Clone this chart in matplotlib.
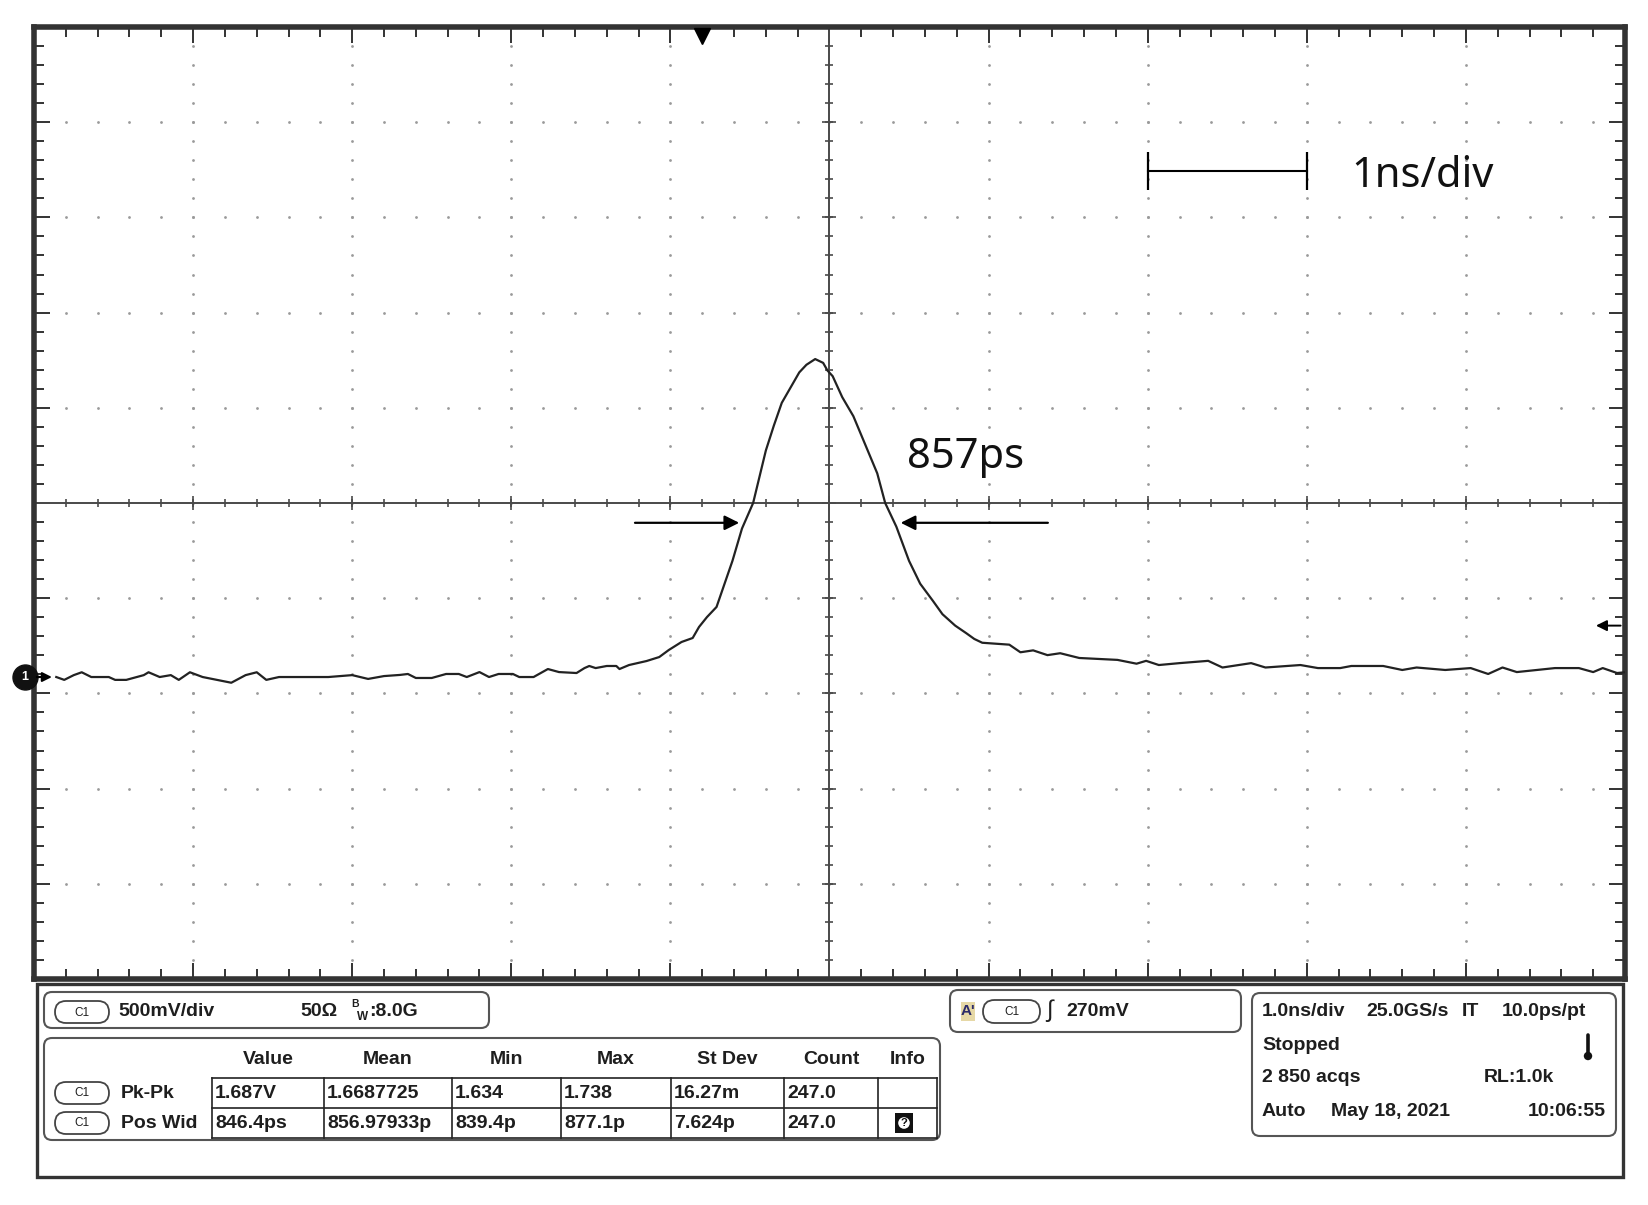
import numpy as np
import matplotlib
matplotlib.use('Agg')
import matplotlib.pyplot as plt
from matplotlib.patches import FancyBboxPatch, Rectangle, Circle

# ---- trace (ns, V) ----
time_ns = [-4.86, -4.81, -4.75, -4.70, -4.64, -4.53, -4.49, -4.42, -4.31, -4.28,
           -4.21, -4.14, -4.09, -4.02, -3.94, -3.85, -3.76, -3.67, -3.60, -3.54,
           -3.46, -3.33, -3.15, -3.00, -2.90, -2.80, -2.70, -2.65, -2.60, -2.50,
           -2.41, -2.33, -2.28, -2.20, -2.14, -2.08, -1.99, -1.95, -1.86, -1.77,
           -1.70, -1.59, -1.54, -1.51, -1.47, -1.40, -1.34, -1.32, -1.26, -1.15,
           -1.07, -1.01, -0.93, -0.86, -0.82, -0.77, -0.71, -0.61, -0.55, -0.48,
           -0.40, -0.35, -0.30, -0.19, -0.145, -0.09, -0.04, -0.013, 0.02, 0.08,
           0.15, 0.23, 0.30, 0.35, 0.42, 0.50, 0.57, 0.65, 0.71, 0.79,
           0.86, 0.91, 0.96, 1.13, 1.20, 1.28, 1.37, 1.45, 1.57, 1.81,
           1.93, 1.99, 2.07, 2.20, 2.38, 2.47, 2.65, 2.74, 2.96, 3.07,
           3.21, 3.28, 3.48, 3.60, 3.69, 3.87, 4.03, 4.14, 4.23, 4.32,
           4.56, 4.71, 4.80, 4.86, 4.95, 5.00]
volts = [0.000, -0.015, 0.010, 0.025, 0.000, 0.000, -0.015, -0.015, 0.010, 0.025,
         0.000, 0.010, -0.015, 0.025, 0.000, -0.015, -0.030, 0.010, 0.025, -0.015,
         0.000, 0.000, 0.000, 0.010, -0.010, 0.005, 0.011, 0.016, -0.005, -0.005,
         0.016, 0.016, 0.000, 0.026, 0.000, 0.016, 0.016, 0.000, 0.000, 0.042,
         0.026, 0.021, 0.047, 0.058, 0.047, 0.058, 0.058, 0.042, 0.063, 0.084,
         0.105, 0.142, 0.184, 0.205, 0.263, 0.315, 0.368, 0.610, 0.780, 0.914,
         1.19, 1.32, 1.44, 1.60, 1.64, 1.67, 1.65, 1.61, 1.58, 1.47,
         1.37, 1.21, 1.07, 0.914, 0.79, 0.61, 0.49, 0.40, 0.33, 0.27,
         0.23, 0.20, 0.18, 0.17, 0.13, 0.14, 0.115, 0.125, 0.100, 0.090,
         0.070, 0.085, 0.063, 0.073, 0.085, 0.050, 0.073, 0.050, 0.063, 0.047,
         0.047, 0.058, 0.058, 0.037, 0.050, 0.037, 0.047, 0.016, 0.050, 0.026,
         0.047, 0.047, 0.026, 0.047, 0.021, 0.025]

trig_time = -0.80
trig_level = 0.27
fwhm_level = 0.81
fwhm_left = -0.55
fwhm_right = 0.43
scalebar = [2.0, 3.0]
scalebar_v = 2.66

# ---- readout panel text ----
ch_scale = '500mV/div'
ch_imp = '50Ω'
ch_bw = ':8.0G'
trig_text = '270mV'
meas_cols = ['Value', 'Mean', 'Min', 'Max', 'St Dev', 'Count', 'Info']
meas_rows = ['Pk-Pk', 'Pos Wid']
pkpk_vals = ['1.687V', '1.6687725', '1.634', '1.738', '16.27m', '247.0']
poswid_vals = ['846.4ps', '856.97933p', '839.4p', '877.1p', '7.624p', '247.0']

v_center = 0.914
FONT = ['Liberation Sans', 'DejaVu Sans']
INK = '#1e1e1e'

fig = plt.figure(figsize=(16.49, 12.05), dpi=100)
fig.patch.set_facecolor('white')

# full-figure pixel axes for the readout panel
ax_p = fig.add_axes([0, 0, 1, 1])
ax_p.set_xlim(0, 1649)
ax_p.set_ylim(1205, 0)
ax_p.axis('off')

# graticule
ax = fig.add_axes([34 / 1649, (1205 - 979) / 1205, 1591 / 1649, 952 / 1205])
ax.set_xlim(-5, 5)
ax.set_ylim(v_center - 2.5, v_center + 2.5)
for s in ax.spines.values():
    s.set_linewidth(4)
    s.set_color('#333333')
ax.set_xticks(np.arange(-5, 5.01, 1))
ax.set_xticks(np.arange(-5, 5.01, 0.2), minor=True)
ax.set_yticks(v_center + np.arange(-2.5, 2.51, 0.5))
ax.set_yticks(v_center + np.arange(-2.5, 2.51, 0.1), minor=True)
ax.tick_params(which='both', direction='in', top=True, right=True,
               labelbottom=False, labelleft=False, color='#333333', width=1.4)
ax.tick_params(which='major', length=11.5)
ax.tick_params(which='minor', length=7.5)

minor_t = np.arange(-5, 5.01, 0.2)
minor_v = v_center + np.arange(-2.5, 2.51, 0.1)
for t in range(-4, 5):
    if t != 0:
        ax.plot([t] * len(minor_v), minor_v, ls='none', marker='o', ms=2.0,
                mew=0, color='#9a9a9a')
for k in range(-4, 5):
    if k != 0:
        ax.plot(minor_t, [v_center + 0.5 * k] * len(minor_t), ls='none',
                marker='o', ms=2.0, mew=0, color='#9a9a9a')

# centre cross with ticks
ax.axhline(v_center, color='#4a4a4a', lw=1.4)
ax.axvline(0, color='#4a4a4a', lw=1.4)
ax.plot(minor_t, [v_center] * len(minor_t), ls='none', marker='|', ms=6,
        mew=1.2, color='#4a4a4a')
ax.plot(np.arange(-5, 5.01, 1), [v_center] * 11, ls='none', marker='|', ms=10,
        mew=1.2, color='#4a4a4a')
ax.plot([0] * len(minor_v), minor_v, ls='none', marker='_', ms=6, mew=1.2,
        color='#4a4a4a')
ax.plot([0] * 11, v_center + np.arange(-2.5, 2.51, 0.5), ls='none', marker='_',
        ms=10, mew=1.2, color='#4a4a4a')

# waveform
ax.plot(time_ns, volts, color='#222222', lw=1.6, zorder=5)

# trigger position, trigger level, channel ground markers
ax.plot([trig_time], [v_center + 2.5 - 0.045], marker='v', ms=11, color='black',
        clip_on=False, zorder=6)
ax.annotate('', xy=(4.80, trig_level), xytext=(4.99, trig_level),
            arrowprops=dict(arrowstyle='-|>', lw=1.4, color='black',
                            mutation_scale=16), zorder=6)
ax.plot([-5.057], [0], marker='o', ms=18, color='#111111', clip_on=False, zorder=7)
ax.text(-5.057, 0, '1', color='white', fontsize=9, fontweight='bold',
        ha='center', va='center', family=FONT, zorder=8, clip_on=False)
ax.annotate('', xy=(-4.87, 0), xytext=(-5.0, 0),
            arrowprops=dict(arrowstyle='-|>', lw=1.5, color='black',
                            mutation_scale=14), zorder=7, annotation_clip=False)

# 1ns/div scale bar
ax.plot(scalebar, [scalebar_v, scalebar_v], color='black', lw=1.5, zorder=6)
ax.plot(scalebar, [scalebar_v, scalebar_v], ls='none', marker='|', ms=27,
        mew=1.6, color='black', zorder=6)
ax.text(3.28, 2.575, '1ns/div', fontsize=30, family=['Noto Sans', 'DejaVu Sans'],
        ha='left', va='baseline', color='#111111')

# FWHM arrows
ax.annotate('', xy=(fwhm_left, fwhm_level), xytext=(-1.24, fwhm_level),
            arrowprops=dict(arrowstyle='-|>', lw=1.6, color='black',
                            mutation_scale=22), zorder=6)
ax.annotate('', xy=(fwhm_right, fwhm_level), xytext=(1.39, fwhm_level),
            arrowprops=dict(arrowstyle='-|>', lw=1.6, color='black',
                            mutation_scale=22), zorder=6)
ax.text(0.49, 1.10, '857ps', fontsize=30, family=['Noto Sans', 'DejaVu Sans'],
        ha='left', va='baseline', color='#111111')


# ---- readout panel ----
def rbox(x0, y0, x1, y1, r=8, lw=1.5, ec='#555555', fc='none'):
    ax_p.add_patch(FancyBboxPatch((x0, y0), x1 - x0, y1 - y0,
                                  boxstyle=f'round,pad=0,rounding_size={r}',
                                  lw=lw, ec=ec, fc=fc))


def txt(x, y, s, ha='left', size=14, weight='bold', color=INK):
    ax_p.text(x, y, s, ha=ha, va='center', fontsize=size, fontweight=weight,
              family=FONT, color=color)


def pill(x0, y0, w=54, h=22):
    rbox(x0, y0, x0 + w, y0 + h, r=h / 2, lw=1.3, ec='#444444')
    txt(x0 + w / 2, y0 + h / 2 + 0.5, 'C1', ha='center', size=8.5, weight='normal')


ax_p.add_patch(Rectangle((37, 984), 1586, 193, lw=2.4, ec='#333333', fc='none'))

# channel box
rbox(44, 992, 489, 1028)
pill(55, 1001)
txt(118, 1012, ch_scale)
txt(300, 1012, ch_imp)
txt(351, 1004, 'B', size=7.5)
txt(357, 1017, 'W', size=8.5)
txt(369, 1012, ch_bw)

# measurement table
rbox(44, 1038, 940, 1140)
col_edges = [212, 324, 452, 561, 671, 784, 878, 937]
row_lines = [1078, 1108, 1138]
for y in row_lines:
    ax_p.plot([col_edges[0], col_edges[-1]], [y, y], color='#222222', lw=1.2)
for x in col_edges:
    ax_p.plot([x, x], [row_lines[0], row_lines[-1]], color='#222222', lw=1.2)
for i, name in enumerate(meas_cols):
    txt((col_edges[i] + col_edges[i + 1]) / 2, 1060, name, ha='center')
row_y = [1093, 1123]
for ry, name, vals in zip(row_y, meas_rows, [pkpk_vals, poswid_vals]):
    pill(55, ry - 11)
    txt(121, ry, name)
    for i, v in enumerate(vals):
        txt(col_edges[i] + 3, ry, v)
ax_p.add_patch(Rectangle((895, 1113), 18, 20, fc='#111111', ec='none'))
ax_p.add_patch(Circle((904, 1123), 6.5, fc='white', ec='#111111', lw=1))
txt(904, 1123, '?', ha='center', size=8, color='#111111')

# trigger box
rbox(950, 990, 1241, 1032)
ax_p.add_patch(Rectangle((961, 1002), 14, 19, fc='#e6d8a6', ec='none'))
txt(968, 1011, "A'", ha='center', size=11, color='#2c2c6a')
pill(983, 1000, w=57, h=23)
txt(1049, 1011, '∫', ha='center', size=17, weight='normal')
txt(1066, 1012, trig_text)

# timebase box
rbox(1252, 993, 1616, 1136)
txt(1262, 1011, '1.0ns/div')
txt(1366, 1011, '25.0GS/s')
txt(1462, 1011, 'IT')
txt(1502, 1011, '10.0ps/pt')
txt(1262, 1045, 'Stopped')
ax_p.plot([1588, 1588], [1035, 1054], color='#111111', lw=2.6, solid_capstyle='round')
ax_p.add_patch(Circle((1588, 1056), 4.2, fc='#111111', ec='none'))
txt(1262, 1077, '2 850 acqs')
txt(1554, 1077, 'RL:1.0k', ha='right')
txt(1262, 1111, 'Auto')
txt(1331, 1111, 'May 18, 2021')
txt(1606, 1111, '10:06:55', ha='right')

fig.savefig('out.png', dpi=100, facecolor='white')
